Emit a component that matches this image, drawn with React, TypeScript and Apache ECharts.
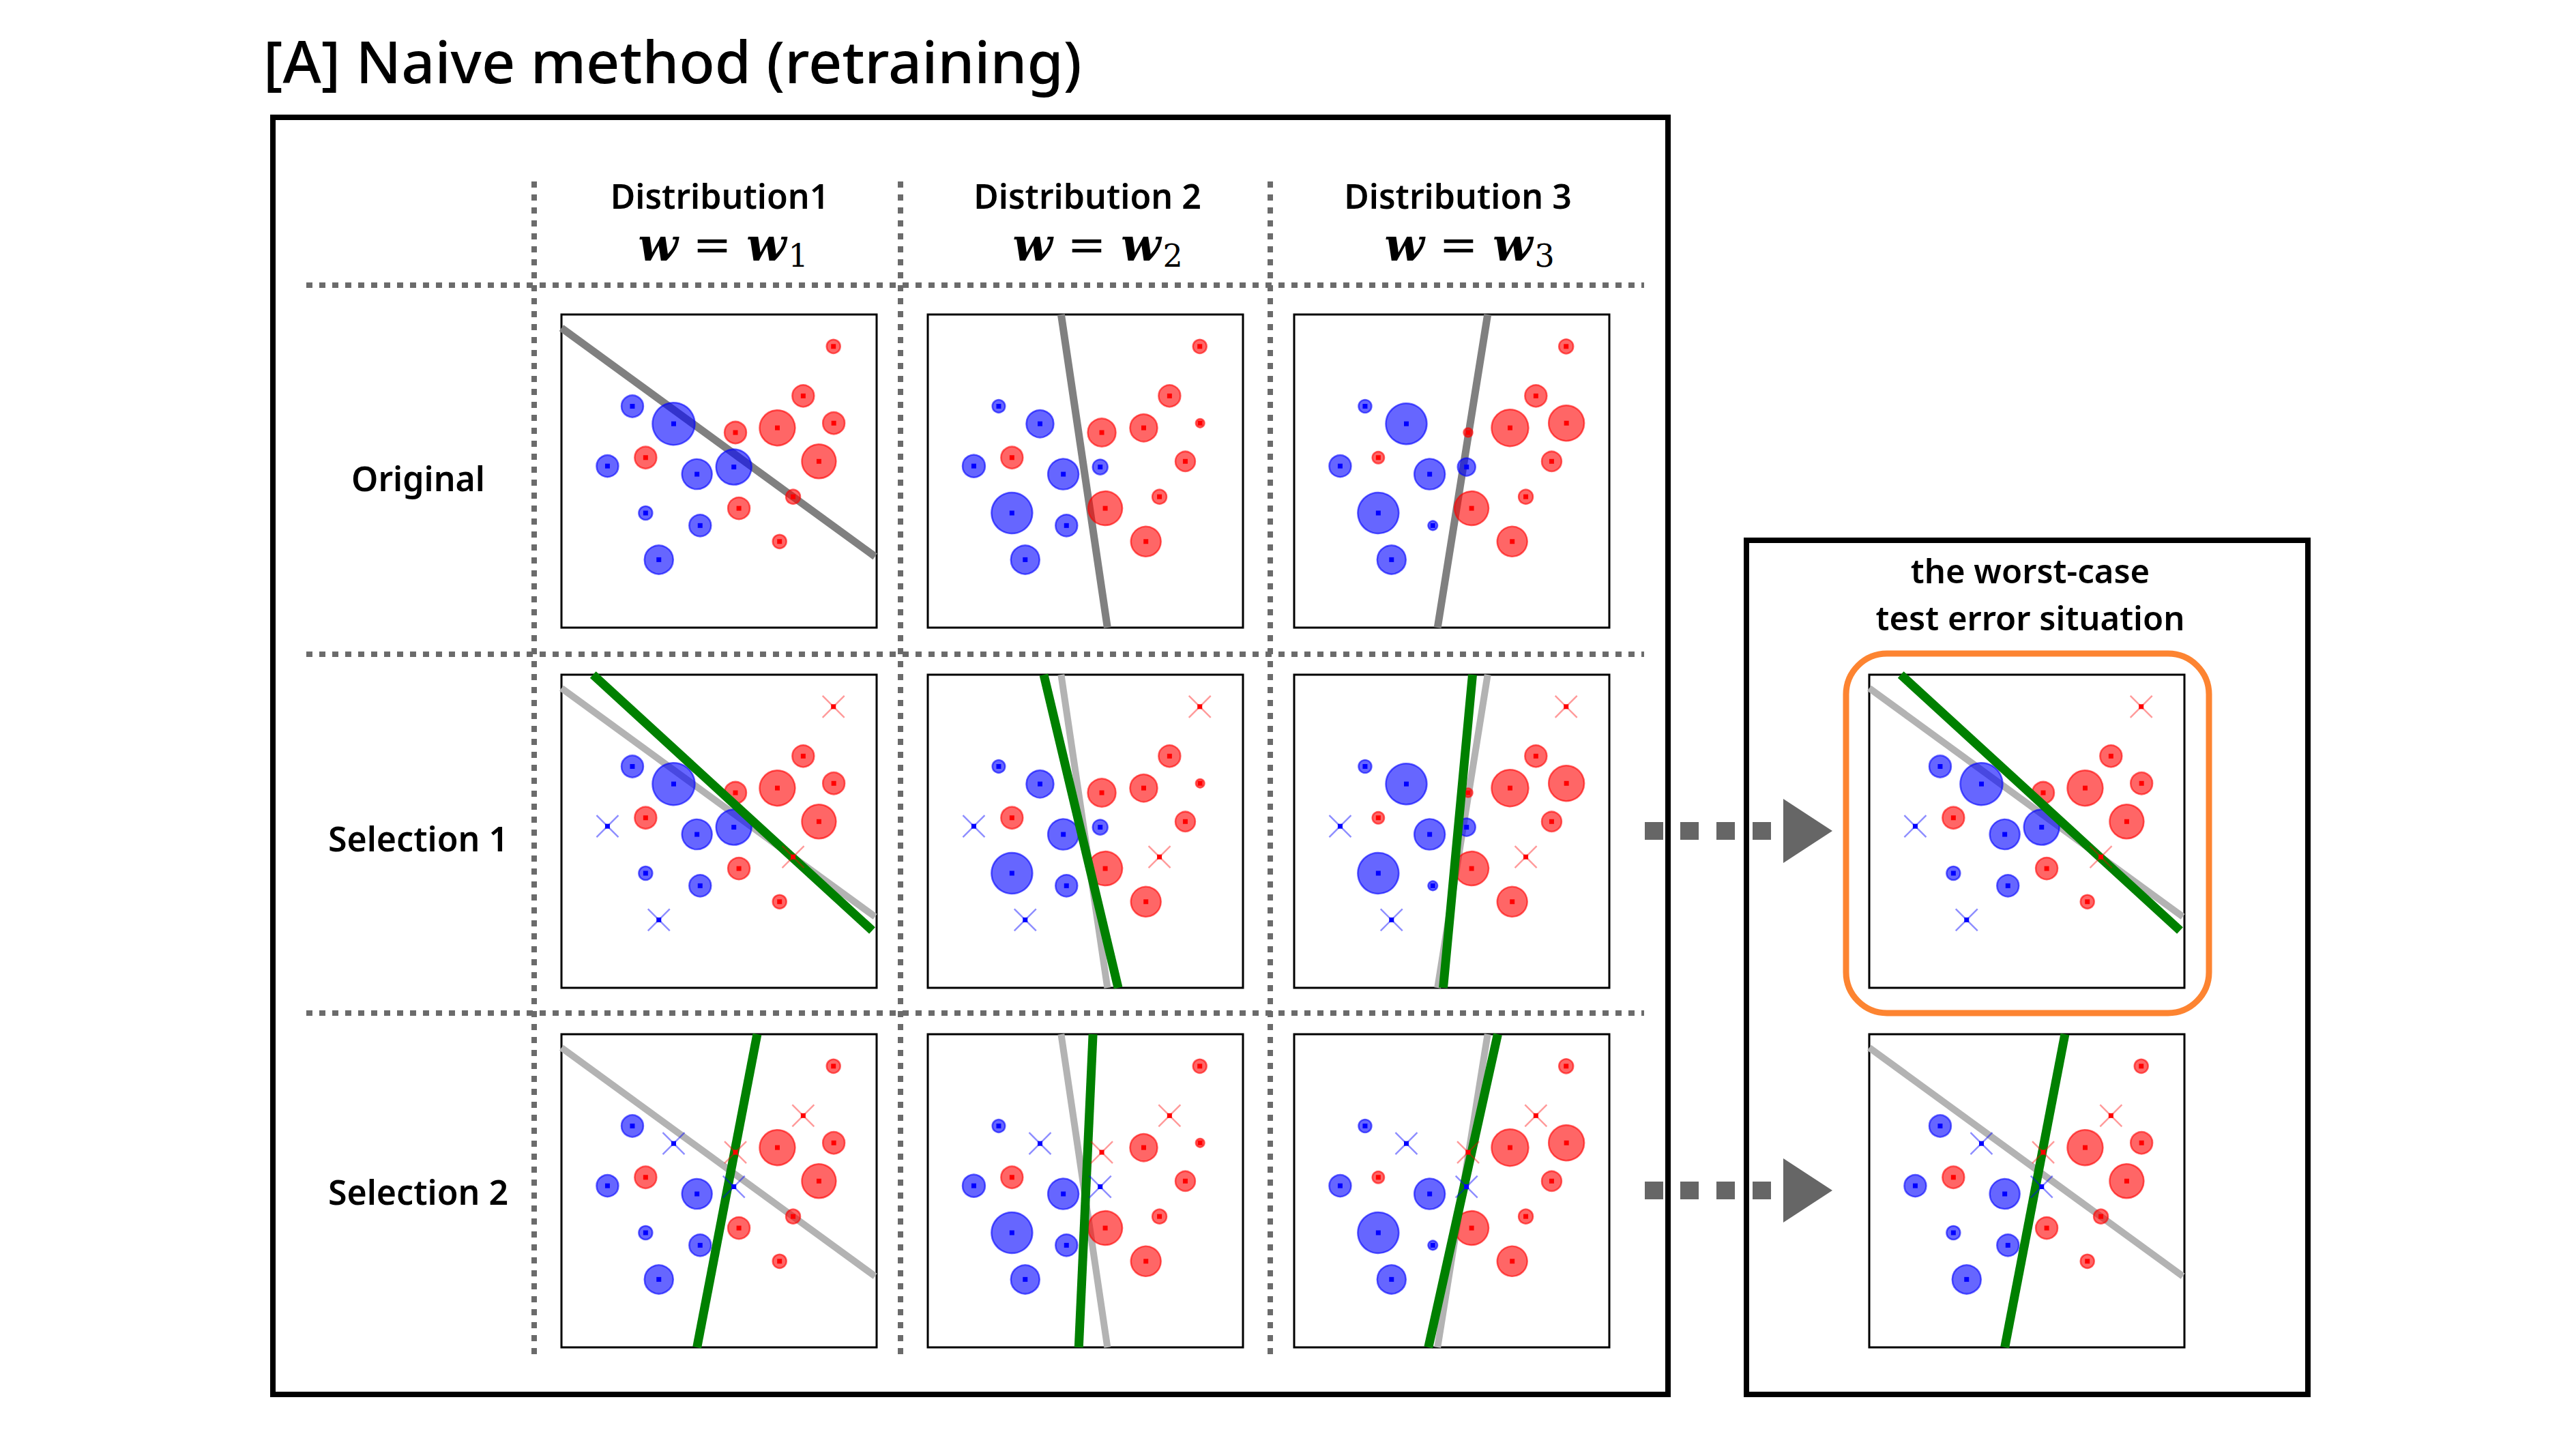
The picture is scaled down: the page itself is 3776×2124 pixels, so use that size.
import React, { useEffect, useRef } from "react";
import * as echarts from "echarts";

// ---------- data (normalised panel coordinates, y up) ----------
const blueX = [0.225, 0.356, 0.146, 0.43, 0.547, 0.267, 0.44, 0.309];
const blueY = [0.707, 0.651, 0.516, 0.49, 0.513, 0.366, 0.326, 0.217];
const redX = [0.863, 0.767, 0.685, 0.864, 0.552, 0.267, 0.817, 0.735, 0.563, 0.692];
const redY = [0.898, 0.74, 0.638, 0.653, 0.623, 0.543, 0.531, 0.418, 0.381, 0.275];

// sample weights per distribution
const blueWeight1 = [1.6, 3.1, 1.6, 2.2, 2.6, 1.0, 1.6, 2.1];
const redWeight1 = [1.0, 1.6, 2.6, 1.6, 1.6, 1.6, 2.5, 1.05, 1.6, 1.0];
const blueWeight2 = [0.93, 2.0, 1.65, 2.25, 1.1, 3.0, 1.6, 2.1];
const redWeight2 = [1.0, 1.6, 2.0, 0.63, 2.05, 1.6, 1.45, 1.05, 2.5, 2.2];
const blueWeight3 = [0.95, 3.0, 1.6, 2.25, 1.3, 3.0, 0.68, 2.1];
const redWeight3 = [1.05, 1.6, 2.7, 2.6, 0.65, 0.87, 1.45, 1.05, 2.5, 2.2];

// removed samples in each selection
const sel1RemovedBlue = [2, 7];
const sel1RemovedRed = [0, 7];
const sel2RemovedBlue = [1, 4];
const sel2RemovedRed = [1, 4];

// decision boundaries [[x0,y0],[x1,y1]]
const originalLine1 = [[0, 0.957], [0.995, 0.227]];
const originalLine2 = [[0.423, 1], [0.57, 0]];
const originalLine3 = [[0.614, 1], [0.455, 0]];
const sel1Line1 = [[0.1, 1], [0.986, 0.183]];
const sel1Line2 = [[0.368, 1], [0.604, 0]];
const sel1Line3 = [[0.566, 1], [0.473, 0]];
const sel2Line1 = [[0.621, 1], [0.43, 0]];
const sel2Line2 = [[0.524, 1], [0.479, 0]];
const sel2Line3 = [[0.646, 1], [0.426, 0]];

const columnTitles = ["Distribution1", "Distribution 2", "Distribution 3"];
const weightSubscripts = ["1", "2", "3"];
const rowTitles = ["Original", "Selection 1", "Selection 2"];
const mainTitle = "[A] Naive method (retraining)";
const sideTitle = ["the worst-case", "test error situation"];

// ---------- layout ----------
const PW = 462;
const PH = 459;
const colLefts = [823, 1360, 1897];
const rowTops = [461, 989, 1516];
const rightLeft = 2740;
const FONT = '"Noto Sans", "DejaVu Sans", sans-serif';

const blueWeights = [blueWeight1, blueWeight2, blueWeight3];
const redWeights = [redWeight1, redWeight2, redWeight3];
const originalLines = [originalLine1, originalLine2, originalLine3];
const sel1Lines = [sel1Line1, sel1Line2, sel1Line3];
const sel2Lines = [sel2Line1, sel2Line2, sel2Line3];

function crossSeries(i: number, data: number[][], color: string) {
  return {
    type: "custom",
    xAxisIndex: i,
    yAxisIndex: i,
    silent: true,
    clip: false,
    z: 4,
    data,
    renderItem: (params: any, api: any) => {
      const p = api.coord([api.value(0), api.value(1)]);
      const h = 16;
      return {
        type: "group",
        children: [
          { type: "line", shape: { x1: p[0] - h, y1: p[1] - h, x2: p[0] + h, y2: p[1] + h }, style: { stroke: color, lineWidth: 2.4 } },
          { type: "line", shape: { x1: p[0] - h, y1: p[1] + h, x2: p[0] + h, y2: p[1] - h }, style: { stroke: color, lineWidth: 2.4 } },
        ],
      };
    },
  };
}

function buildOption() {
  const panels: { left: number; top: number; dist: number; row: number }[] = [];
  for (let r = 0; r < 3; r++) for (let c = 0; c < 3; c++) panels.push({ left: colLefts[c], top: rowTops[r], dist: c, row: r });
  panels.push({ left: rightLeft, top: rowTops[1], dist: 0, row: 1 });
  panels.push({ left: rightLeft, top: rowTops[2], dist: 0, row: 2 });

  const grid: any[] = [];
  const xAxis: any[] = [];
  const yAxis: any[] = [];
  const series: any[] = [];

  panels.forEach((p, i) => {
    grid.push({ left: p.left, top: p.top, width: PW, height: PH, show: true, borderColor: "#000", borderWidth: 3, backgroundColor: "rgba(0,0,0,0)" });
    xAxis.push({ gridIndex: i, type: "value", min: 0, max: 1, show: false });
    yAxis.push({ gridIndex: i, type: "value", min: 0, max: 1, show: false });

    const remB = p.row === 1 ? sel1RemovedBlue : p.row === 2 ? sel2RemovedBlue : [];
    const remR = p.row === 1 ? sel1RemovedRed : p.row === 2 ? sel2RemovedRed : [];

    series.push({
      type: "line", xAxisIndex: i, yAxisIndex: i, silent: true, clip: false, symbol: "none", showSymbol: false, z: 2,
      data: originalLines[p.dist],
      lineStyle: { color: p.row === 0 ? "#808080" : "#b3b3b3", width: p.row === 0 ? 11 : 10, cap: "butt" },
    });

    const bw = blueWeights[p.dist];
    const rw = redWeights[p.dist];
    const blueData = blueX.map((x, k) => [x, blueY[k], bw[k]]).filter((_, k) => !remB.includes(k));
    const redData = redX.map((x, k) => [x, redY[k], rw[k]]).filter((_, k) => !remR.includes(k));

    series.push({
      type: "scatter", xAxisIndex: i, yAxisIndex: i, silent: true, z: 2, symbol: "circle",
      data: blueData, symbolSize: (v: number[]) => v[2] * 20,
      itemStyle: { color: "rgba(0,0,255,0.6)", borderColor: "rgba(0,0,255,0.6)", borderWidth: 2.5, opacity: 1 },
    });
    series.push({
      type: "scatter", xAxisIndex: i, yAxisIndex: i, silent: true, z: 2, symbol: "circle",
      data: redData, symbolSize: (v: number[]) => v[2] * 20,
      itemStyle: { color: "rgba(255,0,0,0.6)", borderColor: "rgba(255,0,0,0.6)", borderWidth: 2.5, opacity: 1 },
    });

    if (p.row > 0) {
      const gl = p.row === 1 ? sel1Lines[p.dist] : sel2Lines[p.dist];
      series.push({
        type: "line", xAxisIndex: i, yAxisIndex: i, silent: true, clip: false, symbol: "none", showSymbol: false, z: 3,
        data: gl, lineStyle: { color: "#008000", width: 13, cap: "butt" },
      });
      series.push(crossSeries(i, remB.map((k) => [blueX[k], blueY[k]]), "rgba(0,0,255,0.45)"));
      series.push(crossSeries(i, remR.map((k) => [redX[k], redY[k]]), "rgba(255,0,0,0.4)"));
    }

    series.push({
      type: "scatter", xAxisIndex: i, yAxisIndex: i, silent: true, z: 5, symbol: "rect", symbolSize: 7,
      data: blueX.map((x, k) => [x, blueY[k]]), itemStyle: { color: "#0000ff", opacity: 1 },
    });
    series.push({
      type: "scatter", xAxisIndex: i, yAxisIndex: i, silent: true, z: 5, symbol: "rect", symbolSize: 7,
      data: redX.map((x, k) => [x, redY[k]]), itemStyle: { color: "#ff0000", opacity: 1 },
    });
  });

  const graphic: any[] = [];
  const txt = (x: number, y: number, text: string, size: number, weight: any, align = "center") => ({
    type: "text", x, y, silent: true,
    style: { text, fontFamily: FONT, fontSize: size, fontWeight: weight, fill: "#000", textAlign: align, textVerticalAlign: "middle", align, verticalAlign: "middle" },
  });

  graphic.push(txt(386, 88, mainTitle, 86, 500, "left"));

  // boxes
  graphic.push({ type: "rect", silent: true, shape: { x: 400, y: 172, width: 2045, height: 1872 }, style: { fill: "none", stroke: "#000", lineWidth: 8 } });
  graphic.push({ type: "rect", silent: true, shape: { x: 2560, y: 792, width: 823, height: 1252 }, style: { fill: "none", stroke: "#000", lineWidth: 8 } });
  graphic.push({ type: "rect", silent: true, shape: { x: 2706, y: 958, width: 532, height: 527, r: 60 }, style: { fill: "none", stroke: "#fd8431", lineWidth: 9 } });

  // dotted separators
  const dot = { stroke: "#6b6b6b", lineWidth: 8, lineDash: [9, 10] };
  [783, 1320, 1862].forEach((x) => graphic.push({ type: "line", silent: true, shape: { x1: x, y1: 266, x2: x, y2: 1988 }, style: dot }));
  [418, 959, 1485].forEach((y) => graphic.push({ type: "line", silent: true, shape: { x1: 449, y1: y, x2: 2410, y2: y }, style: dot }));

  // headers
  const headX = [1055, 1594, 2137];
  const mathX = [1060, 1609, 2154];
  columnTitles.forEach((t, c) => {
    graphic.push(txt(headX[c], 287, t, 50, 600));
    graphic.push({
      type: "text", x: mathX[c], y: 358, silent: true,
      style: {
        text: "{w|w}{e| = }{w|w}{s|" + weightSubscripts[c] + "}",
        rich: {
          w: { fontFamily: "DejaVu Serif", fontStyle: "italic", fontWeight: "bold", fontSize: 68, lineHeight: 80, verticalAlign: "middle", fill: "#000" },
          e: { fontFamily: "DejaVu Serif", fontSize: 68, lineHeight: 80, verticalAlign: "middle", fill: "#000" },
          s: { fontFamily: "DejaVu Serif", fontSize: 46, lineHeight: 80, verticalAlign: "bottom", padding: [0, 0, 0, 3], fill: "#000" },
        },
        textAlign: "center", textVerticalAlign: "middle", align: "center", verticalAlign: "middle",
      },
    });
  });
  const rowY = [701, 1229, 1747];
  rowTitles.forEach((t, r) => graphic.push(txt(613, rowY[r], t, 50, 600)));
  graphic.push(txt(2976, 836, sideTitle[0], 49, 600));
  graphic.push(txt(2976, 905, sideTitle[1], 49, 600));

  // arrows
  const sqX = [2411, 2463, 2516, 2569];
  [1218, 1745].forEach((cy) => {
    sqX.forEach((x) => graphic.push({ type: "rect", silent: true, shape: { x, y: cy - 13, width: 27, height: 26 }, style: { fill: "#666666" } }));
    graphic.push({ type: "polygon", silent: true, shape: { points: [[2614, cy - 47], [2614, cy + 47], [2686, cy]] }, style: { fill: "#666666" } });
  });

  return { animation: false, backgroundColor: "#fff", grid, xAxis, yAxis, series, graphic };
}

export default function App() {
  const ref = useRef<HTMLDivElement>(null);
  useEffect(() => {
    const chart = echarts.init(ref.current!, null, { renderer: "svg" });
    chart.setOption(buildOption() as any);
    return () => chart.dispose();
  }, []);
  return <div ref={ref} style={{ position: "fixed", left: 0, top: 0, width: 3776, height: 2124, background: "#fff" }} />;
}
